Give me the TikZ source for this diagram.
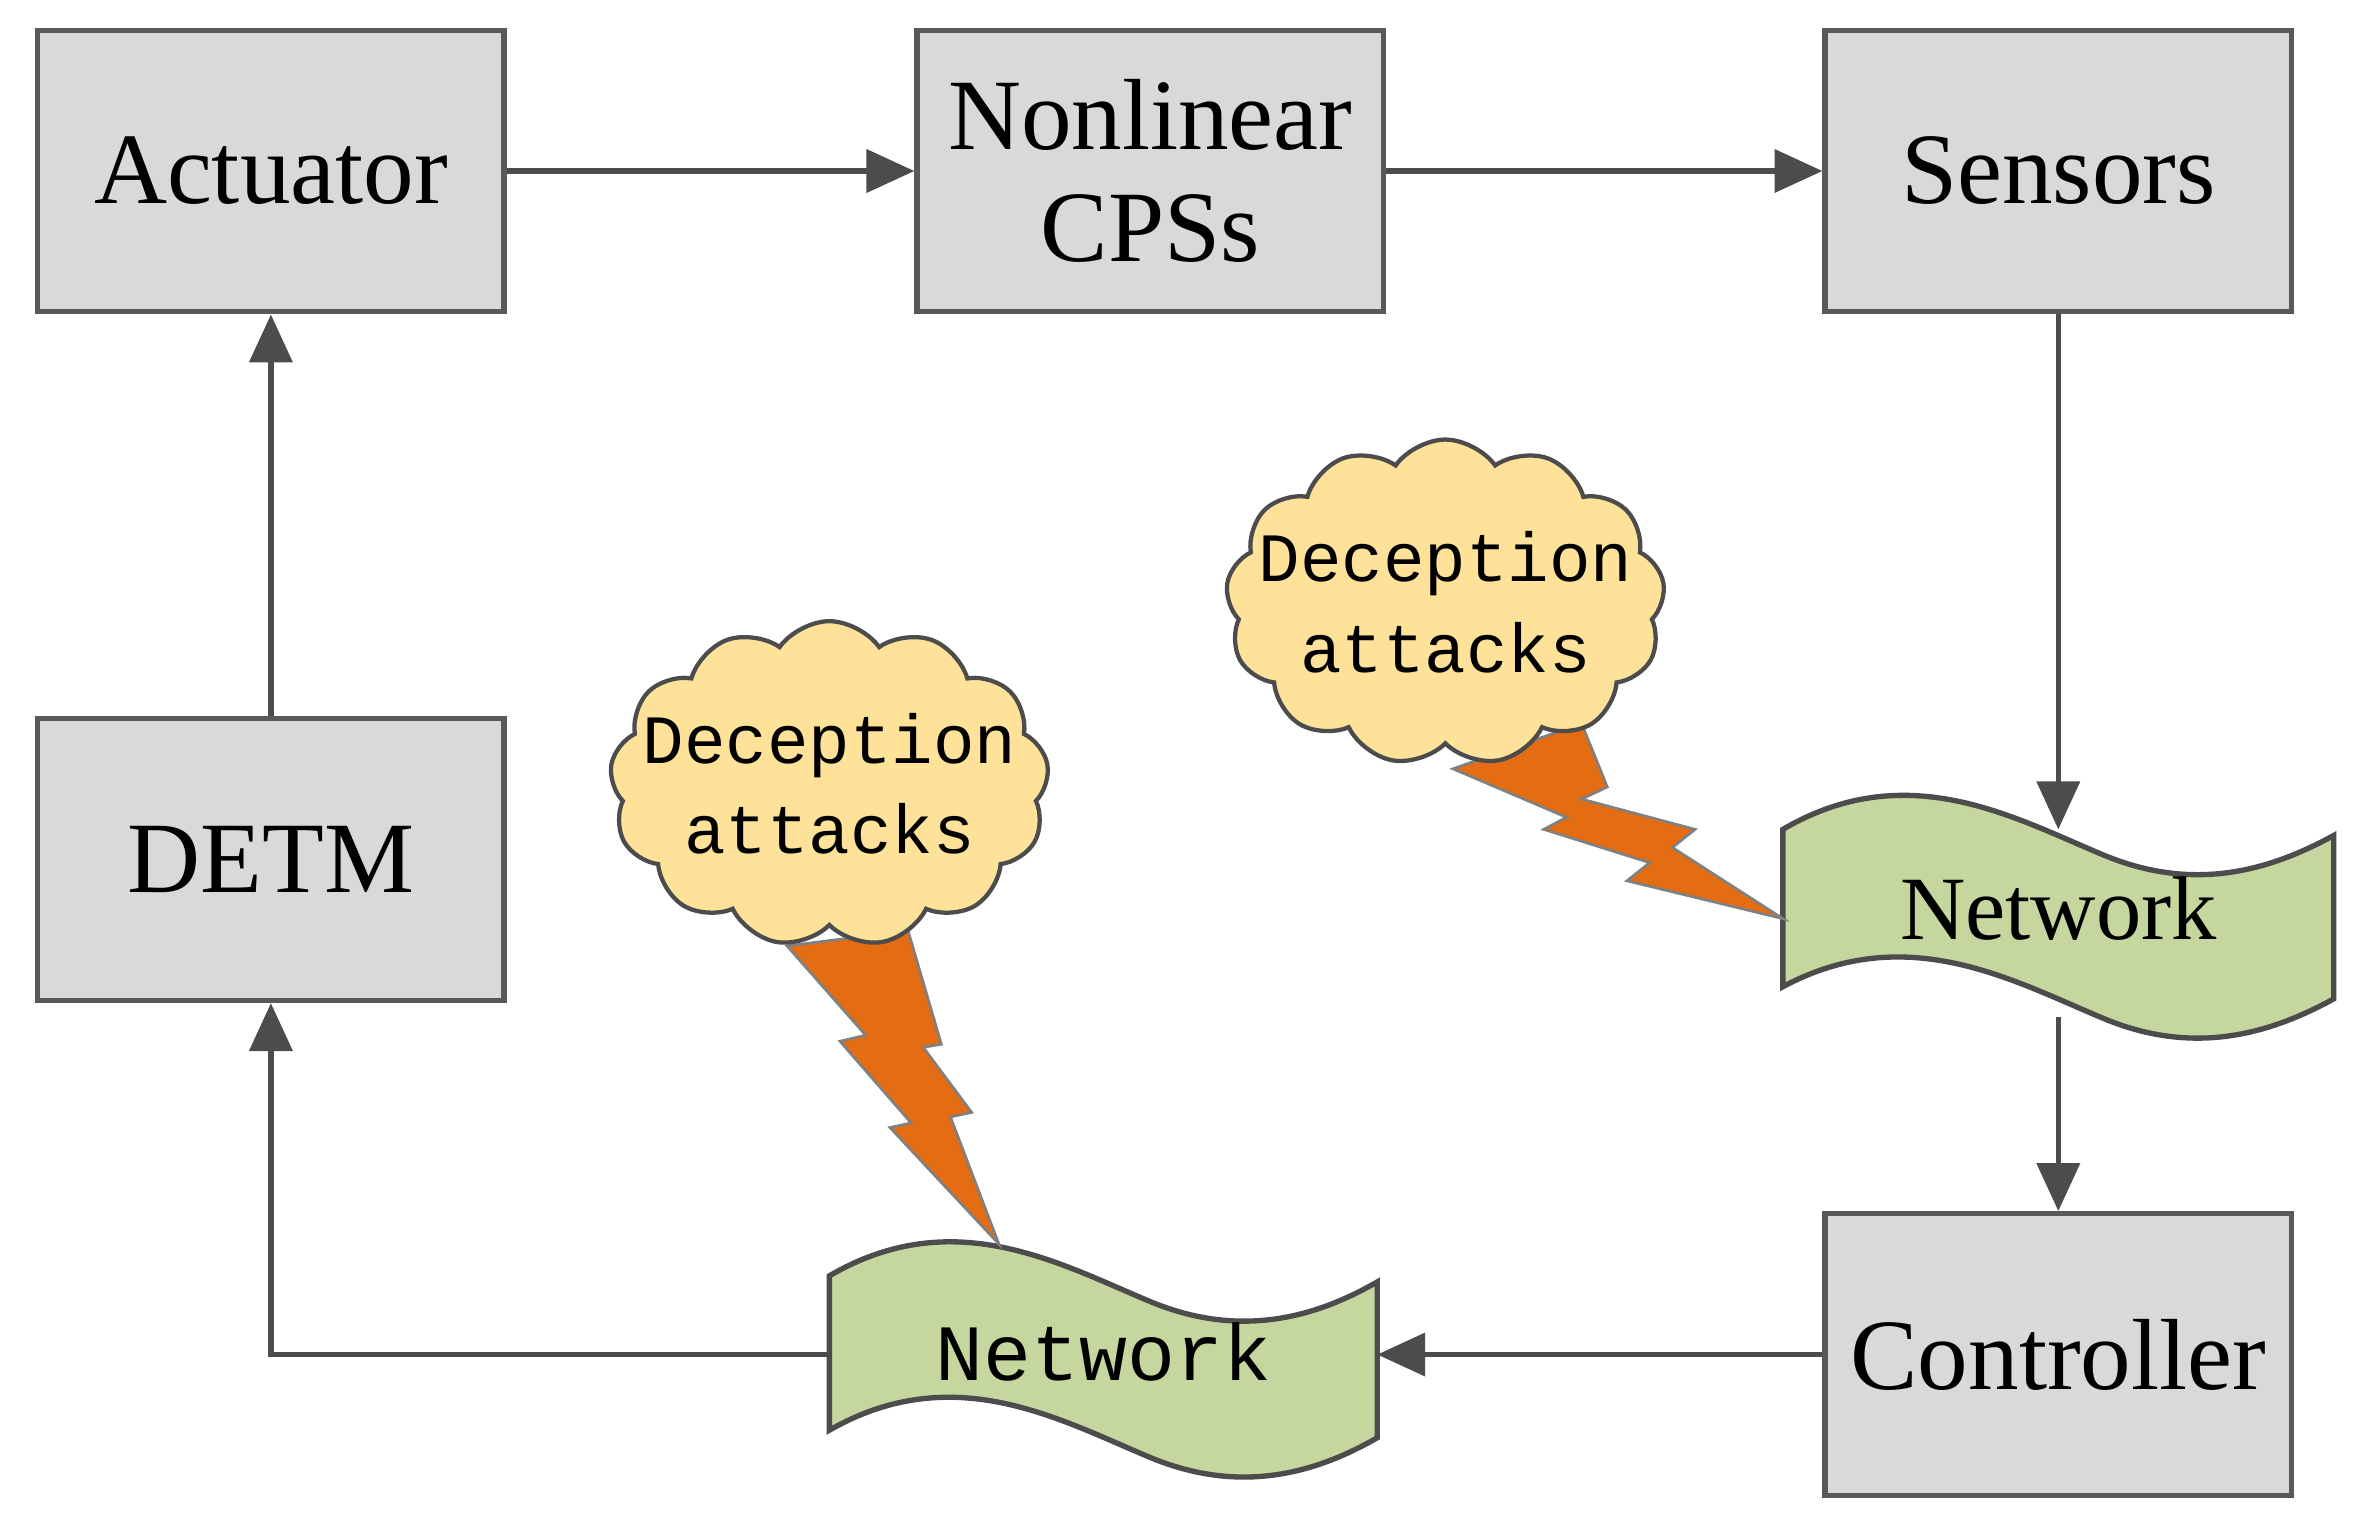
\documentclass[tikz,border=0pt]{standalone}
\usepackage{fontspec}
\setmainfont{Liberation Serif}
\newfontfamily\monofont{Liberation Mono}
\usetikzlibrary{shapes.symbols,arrows.meta}
\definecolor{boxgray}{RGB}{217,217,217}
\definecolor{netgreen}{RGB}{197,214,158}
\definecolor{cloudyellow}{RGB}{255,226,153}
\definecolor{boltorange}{RGB}{228,108,18}
\tikzset{
  block/.style={draw=black!65,line width=1pt,fill=boxgray,minimum width=3.08cm,minimum height=1.86cm,inner sep=0pt,align=center,font=\fontsize{19}{21}\selectfont},
  flow/.style={draw=black!70,line width=1pt,-{Triangle[length=9pt,width=8pt]}},
  attack/.style={cloud,cloud puffs=13,cloud puff arc=110,aspect=1.35,draw=black!70,line width=0.8pt,fill=cloudyellow,minimum width=2.9cm,minimum height=2.15cm,inner sep=-0.35cm,align=center,font=\monofont\fontsize{13}{17}\selectfont},
  bolt/.style={draw=black!50,line width=0.5pt,fill=boltorange},
  netfill/.style={draw=black!70,line width=1pt,fill=netgreen}
}
\begin{document}
\begin{tikzpicture}[x=0.01cm,y=-0.01cm]
  \useasboundingbox (0,0) rectangle (1560,1007);

  % blocks
  \node[block] (act) at (179,113) {Actuator};
  \node[block] (cps) at (760,113) {Nonlinear\\CPSs};
  \node[block] (sen) at (1360,113) {Sensors};
  \node[block] (detm) at (179,568) {DETM};
  \node[block] (ctrl) at (1360,895) {Controller};

  % networks (tape shapes)
  \draw[netfill] (1178,548) .. controls (1260,500) and (1330,540) .. (1390,565)
    .. controls (1450,590) and (1500,575) .. (1542,552) -- (1542,660)
    .. controls (1500,683) and (1450,698) .. (1390,673)
    .. controls (1330,648) and (1260,608) .. (1178,652) -- cycle;
  \node[font=\fontsize{17}{18}\selectfont] (netA) at (1360,600) {Network};
  \draw[netfill] (548,843) .. controls (630,795) and (700,835) .. (760,860)
    .. controls (820,885) and (870,870) .. (910,847) -- (910,950)
    .. controls (870,973) and (820,988) .. (760,963)
    .. controls (700,938) and (630,898) .. (548,945) -- cycle;
  \node[font=\monofont\fontsize{15}{17}\selectfont] (netB) at (729,893) {Network};
  \coordinate (netAtop) at (1360,548);
  \coordinate (netAbot) at (1360,672);
  \coordinate (netBin) at (910,895);
  \coordinate (netBout) at (548,895);
  \coordinate (corner) at (179,895);

  % bolts
  \draw[bolt] (960,508) -- (1045,478) -- (1062,520) -- (1045,528) -- (1120,548)
    -- (1105,560) -- (1178,607) -- (1075,582) -- (1090,570) -- (1020,548) -- (1035,540) -- cycle;
  \draw[bolt] (520,625) -- (600,615) -- (622,690) -- (610,692) -- (642,735)
    -- (628,738) -- (660,822) -- (588,745) -- (602,742) -- (555,688) -- (572,684) -- cycle;

  % clouds
  \node[attack] (atkA) at (955,398) {Deception\\attacks};
  \node[attack] (atkB) at (548,518) {Deception\\attacks};

  % signal flow
  \draw[flow] (act) -- (cps);
  \draw[flow] (cps) -- (sen);
  \draw[flow] (sen) -- (netAtop);
  \draw[flow] (netAbot) -- (ctrl);
  \draw[flow] (ctrl) -- (netBin);
  \draw[flow] (netBout) -- (corner) -- (detm);
  \draw[flow] (detm) -- (act);
\end{tikzpicture}
\end{document}
